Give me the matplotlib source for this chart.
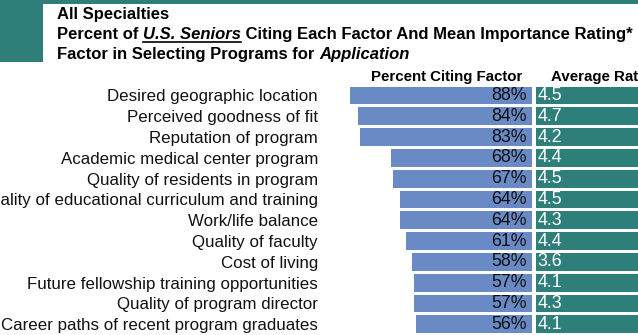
import matplotlib.pyplot as plt
from matplotlib.patches import Rectangle
from matplotlib.lines import Line2D

plt.rcParams['font.family'] = ['Liberation Sans', 'DejaVu Sans']

factors = [
    'Desired geographic location',
    'Perceived goodness of fit',
    'Reputation of program',
    'Academic medical center program',
    'Quality of residents in program',
    'Quality of educational curriculum and training',
    'Work/life balance',
    'Quality of faculty',
    'Cost of living',
    'Future fellowship training opportunities',
    'Quality of program director',
    'Career paths of recent program graduates',
]
pct_citing = [88, 84, 83, 68, 67, 64, 64, 61, 58, 57, 57, 56]
avg_rating = [4.5, 4.7, 4.2, 4.4, 4.5, 4.5, 4.3, 4.4, 3.6, 4.1, 4.3, 4.1]

BLUE = '#6A8AC6'
TEAL = '#2E7E7A'
W, H = 638, 335

fig = plt.figure(figsize=(W / 100, H / 100), dpi=100)
fig.patch.set_facecolor('white')


def px_box(x0, y0, x1, y1):
    # pixel box (top-left origin) -> figure fraction [left, bottom, width, height]
    return [x0 / W, 1 - y1 / H, (x1 - x0) / W, (y1 - y0) / H]


# header decorations
fig.add_artist(Rectangle((0, 1 - 4 / H), 1, 4 / H, transform=fig.transFigure,
                         color=TEAL, lw=0))
fig.add_artist(Rectangle((0, 1 - 62 / H), 43 / W, 62 / H, transform=fig.transFigure,
                         color=TEAL, lw=0))

# rows: centre of row 0 at 95.5px, pitch 20.8px
row0, pitch = 95.5, 20.8
top_px = row0 - pitch / 2
ybot = (H - row0) / pitch

ax1 = fig.add_axes(px_box(325, top_px, 532, H))
ax1.barh(range(len(factors)), pct_citing, height=0.86, color=BLUE)
ax1.set_xlim(100, 0)
ax1.set_ylim(ybot, -0.5)
ax1.set_yticks(range(len(factors)), factors, fontsize=12.2, color='#111111')
ax1.tick_params(axis='y', length=0, pad=5)
ax1.set_xticks([])
for s in ax1.spines.values():
    s.set_visible(False)
for i, v in enumerate(pct_citing):
    ax1.text(2.5, i, f'{v}%', ha='right', va='center', fontsize=12.8, color='#111111')

ax2 = fig.add_axes(px_box(536, top_px, W, H))
ax2.barh(range(len(factors)), avg_rating, height=0.86, color=TEAL)
ax2.set_xlim(0, 3.0)
ax2.set_ylim(ybot, -0.5)
ax2.axis('off')
for i, v in enumerate(avg_rating):
    ax2.text(0.05, i, f'{v:.1f}', ha='left', va='center', fontsize=12.8, color='white')

# column headers
fig.text(447 / W, 1 - 81 / H, 'Percent Citing Factor', ha='center', va='baseline',
         fontsize=10.8, fontweight='bold')
fig.text(551 / W, 1 - 81 / H, 'Average Rating', ha='left', va='baseline',
         fontsize=10.8, fontweight='bold')

# title block, pieced together to mix bold / italic runs
fig.canvas.draw()
renderer = fig.canvas.get_renderer()
title_fs = 12


def title_line(y_px, runs):
    x = 57
    for txt, italic, underline in runs:
        t = fig.text(x / W, 1 - y_px / H, txt, ha='left', va='baseline',
                     fontsize=title_fs, fontweight='bold',
                     fontstyle='italic' if italic else 'normal')
        bb = t.get_window_extent(renderer)
        if underline:
            yy = 1 - (y_px + 2.5) / H
            fig.add_artist(Line2D([bb.x0 / W, bb.x1 / W], [yy, yy],
                                  transform=fig.transFigure, color='black', lw=1.2))
        x = bb.x1


title_line(19, [('All Specialties', False, False)])
title_line(39, [('Percent of ', False, False), ('U.S. Seniors', True, True),
                (' Citing Each Factor And Mean Importance Rating*', False, False)])
title_line(59, [('Factor in Selecting Programs for ', False, False),
                ('Application', True, False)])

fig.savefig('out.png', dpi=100)
